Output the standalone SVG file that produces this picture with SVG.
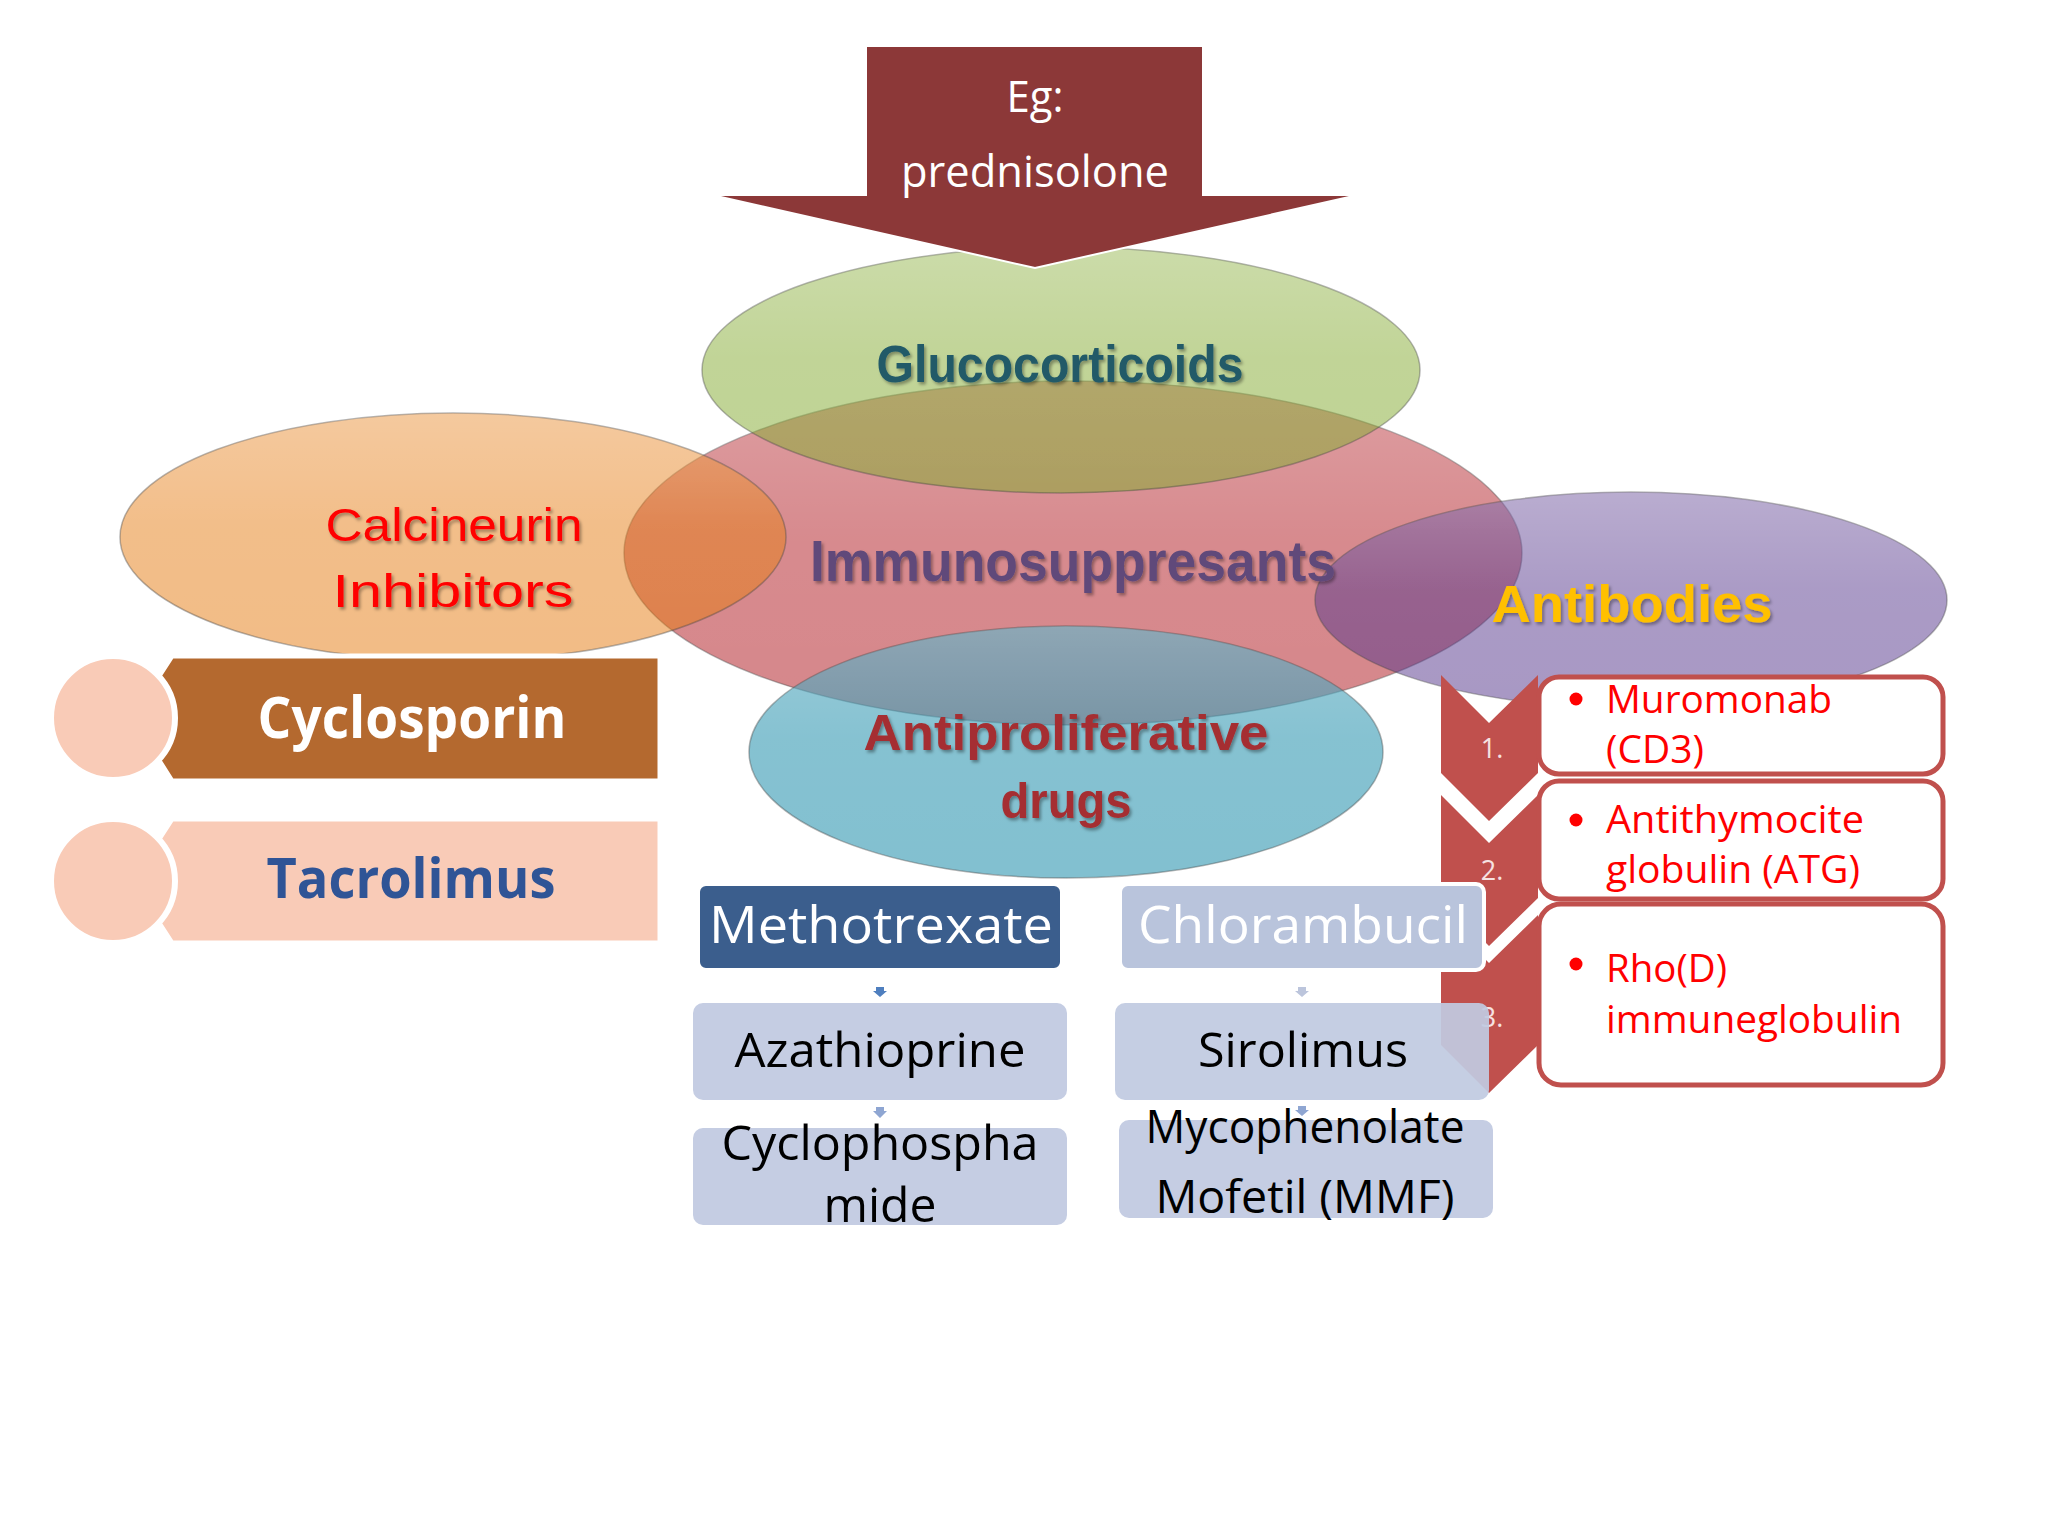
<svg xmlns="http://www.w3.org/2000/svg" width="2048" height="1536" viewBox="0 0 2048 1536">
<defs>
<style>
.cm{font-family:"Comic Sans MS","Liberation Sans",sans-serif;text-anchor:middle}
.cb{font-weight:bold}
.os{font-family:"Open Sans","Liberation Sans",sans-serif}
.mid{text-anchor:middle}
.ell{stroke:rgba(70,70,70,0.4);stroke-width:1.5}
.chev{fill:#C0504D}
.card{fill:#FFFFFF;stroke:#C0504D;stroke-width:5}
.lt{font-family:"Open Sans","Liberation Sans",sans-serif;font-size:38px;fill:#FF0000}
.num{font-family:"Open Sans","Liberation Sans",sans-serif;font-size:27px;fill:#F6E2E2;text-anchor:middle}
.box{stroke:#FFFFFF;stroke-width:4}
.bt{font-family:"Open Sans","Liberation Sans",sans-serif;text-anchor:middle;fill:#000000}
</style>
<filter id="sh" x="-10%" y="-30%" width="120%" height="160%">
<feDropShadow dx="2" dy="2.5" stdDeviation="1.6" flood-color="#000" flood-opacity="0.35"/>
</filter>
<linearGradient id="gloss" x1="0" y1="0" x2="0" y2="1">
<stop offset="0" stop-color="#FFFFFF" stop-opacity="0.2"/>
<stop offset="0.45" stop-color="#FFFFFF" stop-opacity="0.03"/>
<stop offset="1" stop-color="#FFFFFF" stop-opacity="0"/>
</linearGradient>
</defs>
<rect width="2048" height="1536" fill="#FFFFFF"/>

<g id="immunosuppresants">
<ellipse class="ell" cx="1073" cy="553" rx="449" ry="172" fill="#D6878B"/>
<ellipse cx="1073" cy="553" rx="449" ry="172" fill="url(#gloss)"/>
</g>
<g id="glucocorticoids">
<ellipse class="ell" cx="1061" cy="370" rx="359" ry="123" fill="#85AA32" fill-opacity="0.52"/>
<ellipse cx="1061" cy="370" rx="359" ry="123" fill="url(#gloss)"/>
</g>
<g id="calcineurin-inhibitors">
<ellipse class="ell" cx="453" cy="537" rx="333" ry="124" fill="#E5790D" fill-opacity="0.5"/>
<ellipse cx="453" cy="537" rx="333" ry="124" fill="url(#gloss)"/>
</g>
<g id="antibodies">
<ellipse class="ell" cx="1631" cy="600" rx="316" ry="108" fill="#513189" fill-opacity="0.5"/>
<ellipse cx="1631" cy="600" rx="316" ry="108" fill="url(#gloss)"/>
</g>
<g id="antiproliferative-drugs">
<ellipse class="ell" cx="1066" cy="752" rx="317" ry="126" fill="#2F96B1" fill-opacity="0.6"/>
<ellipse cx="1066" cy="752" rx="317" ry="126" fill="url(#gloss)"/>
</g>

<g id="ellipse-labels" filter="url(#sh)">
<text class="cm cb" x="1060" y="382" font-size="52" fill="#215A68" textLength="367" lengthAdjust="spacingAndGlyphs">Glucocorticoids</text>
<text class="cm cb" x="1073" y="581" font-size="57" fill="#60497A" textLength="526" lengthAdjust="spacingAndGlyphs">Immunosuppresants</text>
<text class="cm cb" x="1066" y="750" font-size="50" fill="#A52F30" textLength="405" lengthAdjust="spacingAndGlyphs">Antiproliferative</text>
<text class="cm cb" x="1066" y="818" font-size="50" fill="#A52F30" textLength="131" lengthAdjust="spacingAndGlyphs">drugs</text>
<text class="cm" x="454" y="541" font-size="46" fill="#FF0000" textLength="257" lengthAdjust="spacingAndGlyphs">Calcineurin</text>
<text class="cm" x="453" y="607" font-size="46" fill="#FF0000" textLength="241" lengthAdjust="spacingAndGlyphs">Inhibitors</text>
<text class="cm cb" x="1632" y="622" font-size="51" fill="#FFC000" textLength="281" lengthAdjust="spacingAndGlyphs">Antibodies</text>
</g>

<g id="eg-prednisolone">
<polygon points="866,46 1203,46 1203,195 1358,195 1035,268 712,195 866,195" fill="#8C3838" stroke="#FFFFFF" stroke-width="2" stroke-linejoin="miter"/>
<text class="os mid" x="1035" y="112" font-size="44" fill="#FFFFFF" textLength="57" lengthAdjust="spacingAndGlyphs">Eg:</text>
<text class="os mid" x="1035" y="187" font-size="44" fill="#FFFFFF" textLength="268" lengthAdjust="spacingAndGlyphs">prednisolone</text>
</g>

<g id="cyclosporin">
<polygon points="172,656 660,656 660,781 172,781 132,718" fill="#B4692F" stroke="#FFFFFF" stroke-width="5" stroke-linejoin="miter"/>
<circle cx="113" cy="718" r="62" fill="#F9CBB7" stroke="#FFFFFF" stroke-width="6"/>
<text class="os cb mid" x="412" y="738" font-size="57" fill="#FFFFFF" textLength="309" lengthAdjust="spacingAndGlyphs">Cyclosporin</text>
</g>
<g id="tacrolimus">
<polygon points="172,819 660,819 660,943 172,943 132,881" fill="#F9CBB7" stroke="#FFFFFF" stroke-width="5" stroke-linejoin="miter"/>
<circle cx="113" cy="881" r="62" fill="#F9CBB7" stroke="#FFFFFF" stroke-width="6"/>
<text class="os cb mid" x="411" y="898" font-size="55" fill="#2F5496" textLength="289" lengthAdjust="spacingAndGlyphs">Tacrolimus</text>
</g>

<g id="antibody-1">
<polygon class="chev" points="1441,675 1489,723 1538,675 1538,773 1489,821 1441,773"/>
<rect class="card" x="1539" y="677" width="404" height="97" rx="20"/>
<text class="num" x="1492" y="758">1.</text>
<circle cx="1576" cy="699" r="6.5" fill="#FF0000"/>
<text class="lt" x="1606" y="713" textLength="226" lengthAdjust="spacingAndGlyphs">Muromonab</text>
<text class="lt" x="1606" y="763" textLength="98" lengthAdjust="spacingAndGlyphs">(CD3)</text>
</g>
<g id="antibody-2">
<polygon class="chev" points="1441,795 1489,843 1538,795 1538,898 1489,946 1441,898"/>
<rect class="card" x="1539" y="781" width="404" height="118" rx="20"/>
<text class="num" x="1492" y="880">2.</text>
<circle cx="1576" cy="820" r="6.5" fill="#FF0000"/>
<text class="lt" x="1606" y="833" textLength="258" lengthAdjust="spacingAndGlyphs">Antithymocite</text>
<text class="lt" x="1606" y="883" textLength="254" lengthAdjust="spacingAndGlyphs">globulin (ATG)</text>
</g>
<g id="antibody-3">
<polygon class="chev" points="1441,915 1489,963 1538,915 1538,1045 1489,1093 1441,1045"/>
<rect class="card" x="1539" y="904" width="404" height="181" rx="22"/>
<text class="num" x="1492" y="1027">3.</text>
<circle cx="1576" cy="964" r="6.5" fill="#FF0000"/>
<text class="lt" x="1606" y="982" textLength="121" lengthAdjust="spacingAndGlyphs">Rho(D)</text>
<text class="lt" x="1606" y="1033" textLength="296" lengthAdjust="spacingAndGlyphs">immuneglobulin</text>
</g>

<g id="connectors">
<path d="M876,987 H884 V991 H887 L880,997 L873,991 H876 Z" fill="#4F7FBF"/>
<path d="M876,1107 H884 V1111 H887 L880,1118 L873,1111 H876 Z" fill="#8FA6D2"/>
<path d="M1298,987 H1306 V991 H1309 L1302,997 L1295,991 H1298 Z" fill="#BCC5DC"/>
<path d="M1298,1106 H1306 V1110 H1309 L1302,1116 L1295,1110 H1298 Z" fill="#8FA6D2"/>
</g>

<g id="methotrexate">
<rect class="box" x="698" y="884" width="364" height="86" rx="8" fill="#3B5E8D"/>
<text class="os mid" x="881" y="943" font-size="52" fill="#FFFFFF" textLength="344" lengthAdjust="spacingAndGlyphs">Methotrexate</text>
</g>
<g id="azathioprine">
<rect x="693" y="1003" width="374" height="97" rx="10" fill="#C5CDE3"/>
<text class="bt" x="880" y="1067" font-size="48" textLength="291" lengthAdjust="spacingAndGlyphs">Azathioprine</text>
</g>
<g id="cyclophosphamide">
<rect x="693" y="1128" width="374" height="97" rx="10" fill="#C5CDE3"/>
<text class="bt" x="880" y="1160" font-size="48" textLength="317" lengthAdjust="spacingAndGlyphs">Cyclophospha</text>
<text class="bt" x="880" y="1222" font-size="48" textLength="113" lengthAdjust="spacingAndGlyphs">mide</text>
</g>
<g id="chlorambucil">
<rect class="box" x="1120" y="884" width="364" height="86" rx="8" fill="#B9C4DC"/>
<text class="os mid" x="1303" y="943" font-size="52" fill="#FFFFFF" textLength="330" lengthAdjust="spacingAndGlyphs">Chlorambucil</text>
</g>
<g id="sirolimus">
<rect x="1115" y="1003" width="374" height="97" rx="10" fill="#C1CAE1" fill-opacity="0.93"/>
<text class="bt" x="1303" y="1067" font-size="48" textLength="210" lengthAdjust="spacingAndGlyphs">Sirolimus</text>
</g>
<g id="mycophenolate-mofetil">
<rect x="1119" y="1120" width="374" height="98" rx="10" fill="#C5CDE3"/>
<text class="bt" x="1305" y="1143" font-size="46" textLength="319" lengthAdjust="spacingAndGlyphs">Mycophenolate</text>
<text class="bt" x="1305" y="1213" font-size="46" textLength="299" lengthAdjust="spacingAndGlyphs">Mofetil (MMF)</text>
</g>
</svg>
